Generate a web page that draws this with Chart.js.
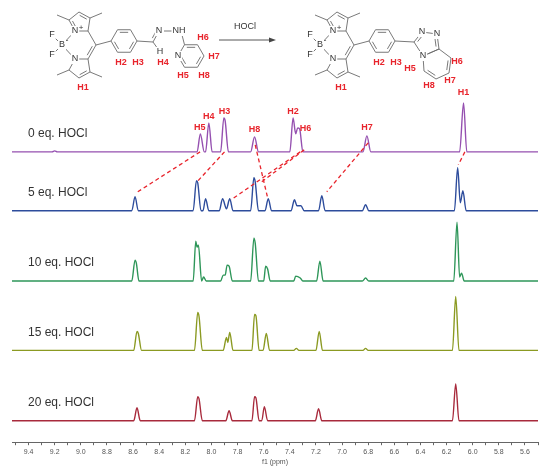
<!DOCTYPE html>
<html>
<head>
<meta charset="utf-8">
<script src="https://cdn.jsdelivr.net/npm/chart.js@4.4.1/dist/chart.umd.min.js"></script>
<style>
  html, body { margin: 0; padding: 0; background: #fff; }
  #wrap { position: relative; width: 550px; height: 471px; }
</style>
</head>
<body>
<div id="wrap"><canvas id="nmr"></canvas></div>
<script>
// spectra: [ppm, intensity] (intensity in px above own baseline)
const eq0 = [[9.53,0],[9.22,0],[9.20,1],[9.18,0],[8.11,0],[8.085,18],[8.055,0],[8.045,0],[8.02,29],[7.995,0],
  [7.93,0],[7.905,34],[7.895,31],[7.87,0],[7.70,0],[7.67,15],[7.64,0],[7.40,0],[7.375,34],[7.355,18],[7.34,24],
  [7.325,23],[7.30,0],[6.84,0],[6.81,16],[6.78,0],[6.10,0],[6.07,49],[6.045,0],[5.50,0]];
const eq5 = [[9.53,0],[8.61,0],[8.585,14],[8.56,0],[8.14,0],[8.115,30],[8.105,28],[8.08,0],[8.065,0],[8.045,12],
  [8.02,0],[7.94,0],[7.915,12],[7.885,2],[7.86,12],[7.835,0],[7.70,0],[7.675,33],[7.665,29],[7.64,0],[7.59,0],
  [7.565,12],[7.54,0],[7.39,0],[7.365,11],[7.345,5],[7.315,5],[7.29,0],[7.18,0],[7.155,15],[7.13,0],[6.845,0],
  [6.82,6],[6.795,0],[6.14,0],[6.115,43],[6.095,8],[6.075,20],[6.05,0],[5.50,0]];
const eq10 = [[9.53,0],[8.61,0],[8.585,21],[8.575,18],[8.555,0],[8.14,0],[8.12,40],[8.11,34],[8.10,36],[8.075,0],
  [8.06,4],[8.04,0],[7.93,0],[7.91,6],[7.895,6],[7.88,16],[7.865,15],[7.84,0],[7.70,0],[7.675,43],[7.665,38],
  [7.64,0],[7.60,0],[7.585,15],[7.57,12],[7.55,0],[7.37,0],[7.355,5],[7.32,3],[7.30,0],[7.195,0],[7.17,20],
  [7.145,0],[6.845,0],[6.82,3],[6.795,0],[6.145,0],[6.12,59],[6.10,4],[6.085,8],[6.065,0],[5.50,0]];
const eq15 = [[9.53,0],[8.595,0],[8.57,19],[8.56,17],[8.535,0],[8.13,0],[8.105,38],[8.095,34],[8.07,0],[7.91,0],
  [7.885,13],[7.875,8],[7.86,18],[7.835,0],[7.69,0],[7.67,36],[7.66,35],[7.635,0],[7.605,0],[7.58,17],[7.555,0],
  [7.37,0],[7.35,2],[7.33,0],[7.20,0],[7.175,19],[7.15,0],[6.84,0],[6.82,2],[6.80,0],[6.155,0],[6.13,54],
  [6.105,0],[5.50,0]];
const eq20 = [[9.53,0],[8.595,0],[8.57,13],[8.545,0],[8.13,0],[8.105,24],[8.095,22],[8.07,0],[7.89,0],[7.865,10],
  [7.84,0],[7.69,0],[7.67,24],[7.66,23],[7.635,0],[7.615,0],[7.595,14],[7.57,0],[7.205,0],[7.18,12],[7.155,0],
  [6.155,0],[6.13,37],[6.105,0],[5.50,0]];

const spectra = [eq0, eq5, eq10, eq15, eq20];
const spectrumLabels = ['0 eq. HOCl', '5 eq. HOCl', '10 eq. HOCl', '15 eq. HOCl', '20 eq. HOCl'];

// proton assignments on the 0 eq. spectrum
const tagNames = ['H5', 'H4', 'H3', 'H8', 'H2', 'H6', 'H7', 'H1'];
const tagPpm = [8.09, 8.02, 7.90, 7.67, 7.375, 7.28, 6.81, 6.07];
const tagLevel = [24, 35, 40, 22, 40, 23, 24, 59];

// dashed guides from 0 eq. peaks to 5 eq. peaks
const linkFromPpm = [8.087, 7.90, 7.665, 7.32, 7.29, 6.80, 6.06];
const linkFromLevel = [0, 0, 7, 0, 2, 9, 0];
const linkToPpm = [8.576, 8.11, 7.57, 7.85, 7.615, 7.117, 6.11];
const linkToLevel = [18, 29, 13, 11, 29, 19, 46];

// layout / style (not data)
const offsets = [291, 232, 161.5, 92, 21.5];
const colors = ['#9550b0', '#2d4c9c', '#2e9659', '#8b9a22', '#a82a3c'];
const RED = '#e8242c';
const TOP = 88;
const AXIS_Y = 443;

const datasets = spectra.map((s, i) => ({
  label: spectrumLabels[i],
  data: s.map(p => ({ x: p[0], y: offsets[i] + p[1] })),
  borderColor: colors[i],
  borderWidth: 1.4,
  pointRadius: 0,
  fill: false,
  cubicInterpolationMode: 'monotone'
}));

function txt(ctx, s, x, y, font, color, bg) {
  ctx.font = font;
  ctx.textAlign = 'center';
  ctx.textBaseline = 'middle';
  if (bg) {
    const w = ctx.measureText(s).width;
    ctx.fillStyle = '#fff';
    ctx.fillRect(x - w / 2 - 1, y - 5, w + 2, 10);
  }
  ctx.fillStyle = color;
  ctx.fillText(s, x, y);
}
function bond(ctx, a, b) {
  ctx.beginPath(); ctx.moveTo(a[0], a[1]); ctx.lineTo(b[0], b[1]); ctx.stroke();
}
function dbond(ctx, a, b, c) {
  // inner second line shifted towards ring centre c
  const mx = (a[0] + b[0]) / 2, my = (a[1] + b[1]) / 2;
  let dx = c[0] - mx, dy = c[1] - my;
  const d = Math.hypot(dx, dy) || 1;
  dx = dx / d * 2.6; dy = dy / d * 2.6;
  const s = 0.18;
  const a2 = [a[0] + (b[0] - a[0]) * s + dx, a[1] + (b[1] - a[1]) * s + dy];
  const b2 = [b[0] + (a[0] - b[0]) * s + dx, b[1] + (a[1] - b[1]) * s + dy];
  bond(ctx, a2, b2);
}
function ring(ctx, pts, dbl) {
  const c = [pts.reduce((t, p) => t + p[0], 0) / pts.length, pts.reduce((t, p) => t + p[1], 0) / pts.length];
  for (let i = 0; i < pts.length; i++) bond(ctx, pts[i], pts[(i + 1) % pts.length]);
  dbl.forEach(i => dbond(ctx, pts[i], pts[(i + 1) % pts.length], c));
}
function hexLeft(cx, cy, r) {
  const out = [];
  for (let k = 0; k < 6; k++) {
    const a = Math.PI / 3 * k;
    out.push([cx + r * Math.cos(a), cy + r * Math.sin(a)]);
  }
  return out;
}

function drawCore(ctx, dx) {
  const P = (x, y) => [x + dx, y];
  const up = [P(75, 31), P(69, 20), P(79, 12), P(90, 18), P(88, 31)];
  const lo = [P(75, 59), P(69, 70), P(79, 78), P(90, 72), P(88, 59)];
  const M = P(96, 45), B = P(62, 45), F1 = P(52, 35), F2 = P(52, 55);
  ring(ctx, up, [0, 2]);
  ring(ctx, lo, [2]);
  bond(ctx, up[4], M); bond(ctx, M, lo[4]);
  dbond(ctx, M, lo[4], P(80, 45));
  bond(ctx, B, up[0]); bond(ctx, B, lo[0]); bond(ctx, B, F1); bond(ctx, B, F2);
  bond(ctx, up[1], P(57, 15)); bond(ctx, up[3], P(102, 13));
  bond(ctx, lo[1], P(57, 75)); bond(ctx, lo[3], P(102, 77));
  const ph = hexLeft(124 + dx, 41, 13);
  ring(ctx, ph, [0, 2, 4]);
  bond(ctx, M, ph[3]);
  const f = '9px "Liberation Sans", Arial, sans-serif';
  txt(ctx, 'F', F1[0], F1[1], f, '#333', true);
  txt(ctx, 'F', F2[0], F2[1], f, '#333', true);
  txt(ctx, 'B', B[0], B[1], f, '#333', true);
  txt(ctx, '-', B[0] + 5, B[1] - 5, '8px "Liberation Sans", Arial, sans-serif', '#333');
  txt(ctx, 'N', up[0][0], up[0][1], f, '#333', true);
  txt(ctx, '+', up[0][0] + 6, up[0][1] - 3, '8px "Liberation Sans", Arial, sans-serif', '#333');
  txt(ctx, 'N', lo[0][0], lo[0][1], f, '#333', true);
  const hf = 'bold 9px "Liberation Sans", Arial, sans-serif';
  txt(ctx, 'H1', 83 + dx, 88, hf, RED);
  txt(ctx, 'H2', 121 + dx, 63, hf, RED);
  txt(ctx, 'H3', 138 + dx, 63, hf, RED);
  return ph[0];
}

const structurePlugin = {
  id: 'structures',
  afterDraw(chart) {
    const ctx = chart.ctx;
    ctx.save();
    ctx.strokeStyle = '#6a6a6a';
    ctx.lineWidth = 0.9;
    const f = '9px "Liberation Sans", Arial, sans-serif';
    const hf = 'bold 9px "Liberation Sans", Arial, sans-serif';

    // starting material
    const r1 = drawCore(ctx, 0);
    const cim = [153, 42], nA = [159, 31];
    bond(ctx, r1, cim);
    bond(ctx, cim, nA); dbond(ctx, cim, nA, [150, 30]);
    bond(ctx, cim, [158, 49]);
    bond(ctx, [164, 31], [172, 31]);
    const py = hexLeft(191, 56, 13);
    ring(ctx, py, [0, 2, 4]);
    bond(ctx, [182, 35], py[4]);
    txt(ctx, 'N', nA[0], nA[1], f, '#333', true);
    txt(ctx, 'NH', 179, 31, f, '#333', true);
    txt(ctx, 'H', 160, 52, f, '#333', true);
    txt(ctx, 'N', py[3][0], py[3][1], f, '#333', true);
    txt(ctx, 'H4', 163, 63, hf, RED);
    txt(ctx, 'H6', 203, 38, hf, RED);
    txt(ctx, 'H7', 214, 57, hf, RED);
    txt(ctx, 'H8', 204, 76, hf, RED);
    txt(ctx, 'H5', 183, 76, hf, RED);

    // arrow
    ctx.strokeStyle = '#444';
    bond(ctx, [219, 40], [272, 40]);
    ctx.fillStyle = '#444';
    ctx.beginPath(); ctx.moveTo(276, 40); ctx.lineTo(269, 37.5); ctx.lineTo(269, 42.5); ctx.closePath(); ctx.fill();
    txt(ctx, 'HOCl', 245, 27, f, '#333');

    // product
    ctx.strokeStyle = '#6a6a6a';
    const r2 = drawCore(ctx, 258);
    const tri = [[414, 42], [422, 32], [437, 34], [439, 49], [423, 56]];
    const six = [[423, 56], [439, 49], [451, 58], [449, 73], [436, 79], [424, 71]];
    bond(ctx, r2, tri[0]);
    ring(ctx, tri, [0, 2]);
    ring(ctx, six, [2, 4]);
    txt(ctx, 'N', tri[1][0], tri[1][1], f, '#333', true);
    txt(ctx, 'N', tri[2][0], tri[2][1], f, '#333', true);
    txt(ctx, 'N', tri[4][0], tri[4][1], f, '#333', true);
    txt(ctx, 'H5', 410, 69, hf, RED);
    txt(ctx, 'H6', 457, 62, hf, RED);
    txt(ctx, 'H7', 450, 81, hf, RED);
    txt(ctx, 'H8', 429, 86, hf, RED);

    // spectrum annotations
    const xs = chart.scales.x, ys = chart.scales.y;
    ctx.strokeStyle = RED;
    ctx.lineWidth = 1.3;
    ctx.setLineDash([4, 3]);
    linkFromPpm.forEach((p, i) => {
      bond(ctx, [xs.getPixelForValue(p), ys.getPixelForValue(offsets[0] + linkFromLevel[i])],
                [xs.getPixelForValue(linkToPpm[i]), ys.getPixelForValue(offsets[1] + linkToLevel[i])]);
    });
    ctx.setLineDash([]);
    tagNames.forEach((t, i) => {
      txt(ctx, t, xs.getPixelForValue(tagPpm[i]), ys.getPixelForValue(offsets[0] + tagLevel[i]), hf, RED);
    });
    spectrumLabels.forEach((t, i) => {
      ctx.font = '12px "Liberation Sans", Arial, sans-serif';
      ctx.textAlign = 'left';
      ctx.textBaseline = 'middle';
      ctx.fillStyle = '#333';
      ctx.fillText(t, 28, ys.getPixelForValue(offsets[i]) - 18);
    });
    ctx.restore();
  }
};

new Chart(document.getElementById('nmr'), {
  type: 'line',
  data: { datasets: datasets },
  options: {
    responsive: true,
    maintainAspectRatio: false,
    animation: false,
    layout: { padding: { top: TOP, left: 12, right: 12, bottom: 5 } },
    plugins: { legend: { display: false }, tooltip: { enabled: false } },
    scales: {
      x: {
        type: 'linear',
        reverse: true,
        min: 5.5,
        max: 9.527,
        border: { color: '#666', width: 1 },
        grid: { drawOnChartArea: false, tickLength: 3, color: '#666' },
        ticks: {
          stepSize: 0.1,
          includeBounds: false,
          autoSkip: false,
          maxRotation: 0,
          padding: 3,
          color: '#555',
          font: { family: '"Liberation Sans", Arial, sans-serif', size: 7 },
          callback: v => (Math.round(v * 10) % 2 === 0 ? v.toFixed(1) : '')
        },
        title: {
          display: true,
          text: 'f1 (ppm)',
          color: '#555',
          font: { family: '"Liberation Sans", Arial, sans-serif', size: 7 },
          padding: { top: -2, bottom: 0 }
        }
      },
      y: { display: false, min: 0, max: AXIS_Y - TOP }
    }
  },
  plugins: [structurePlugin]
});
</script>
</body>
</html>
